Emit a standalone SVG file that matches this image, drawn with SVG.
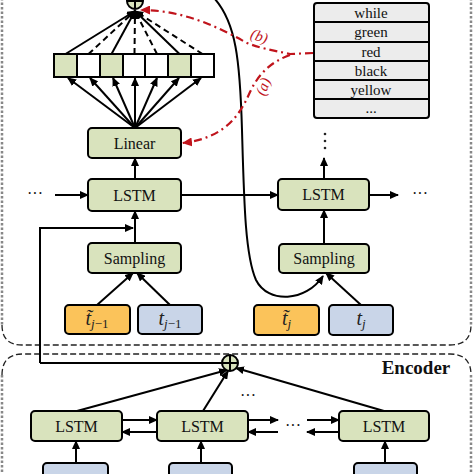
<svg xmlns="http://www.w3.org/2000/svg" width="474" height="474" viewBox="0 0 474 474">
<style>
.box{stroke:#000;stroke-width:2}
.g{fill:#d9e3bd}
.o{fill:#fbc35a}
.b{fill:#c9d5e8}
.w{fill:#fff}
.v{fill:#ececec}
.t{font-family:"Liberation Serif",serif;font-size:16px;text-anchor:middle;fill:#111}
.vt{font-family:"Liberation Serif",serif;font-size:15px;text-anchor:middle;fill:#111}
.it{font-family:"Liberation Serif",serif;font-style:italic;font-size:20px;text-anchor:middle;fill:#222}
.ln{fill:none;stroke:#000;stroke-width:2}
.dl{fill:none;stroke:#000;stroke-width:2;stroke-dasharray:6,4}
.red{fill:none;stroke:#c0141c;stroke-width:2.2;stroke-dasharray:8,4,2,4}
.rt{font-family:"Liberation Serif",serif;font-style:italic;font-size:15px;fill:#c0141c;text-anchor:middle}
.bd{fill:none;stroke:#222;stroke-width:1.3;stroke-dasharray:6,3}
.bs{fill:none;stroke:#888;stroke-width:2.5;stroke-dasharray:2.5,2}
</style>
<defs>
<marker id="ar" markerUnits="userSpaceOnUse" markerWidth="9" markerHeight="8" refX="8" refY="4" orient="auto">
<path d="M0,0 L9,4 L0,8 z" fill="#000"/>
</marker>
<marker id="arr" markerUnits="userSpaceOnUse" markerWidth="10" markerHeight="9" refX="9" refY="4.5" orient="auto">
<path d="M0,0 L10,4.5 L0,9 z" fill="#c0141c"/>
</marker>
</defs>

<g id="frames">
<path class="bd" d="M2 325 Q2 345 22 345 L450 345 Q471 345 471 325"/>
<path class="bs" d="M2 -2 L2 325 M471 -2 L471 325"/>
<path class="bd" d="M2 375 Q2 354 23 354 L450 354 Q471 354 471 375"/>
<path class="bs" d="M2 375 L2 476 M471 375 L471 476"/>
<text x="416" y="374" font-family="Liberation Serif,serif" font-weight="bold" font-size="19" text-anchor="middle" fill="#111">Encoder</text>
</g>

<g id="connectors">
<line class="ln" x1="65.5" y1="54" x2="135" y2="11" marker-end="url(#ar)"/>
<line class="dl" x1="88.5" y1="54" x2="135" y2="11" marker-end="url(#ar)"/>
<line class="ln" x1="111.5" y1="54" x2="135" y2="11" marker-end="url(#ar)"/>
<line class="dl" x1="134.5" y1="54" x2="135" y2="11" marker-end="url(#ar)"/>
<line class="dl" x1="157" y1="54" x2="135" y2="11" marker-end="url(#ar)"/>
<line class="ln" x1="179.5" y1="54" x2="135" y2="11" marker-end="url(#ar)"/>
<line class="dl" x1="202.5" y1="54" x2="135" y2="11" marker-end="url(#ar)"/>
<line class="ln" x1="135" y1="128" x2="68" y2="78" marker-end="url(#ar)"/>
<line class="ln" x1="135" y1="128" x2="90" y2="78" marker-end="url(#ar)"/>
<line class="ln" x1="135" y1="128" x2="113" y2="78" marker-end="url(#ar)"/>
<line class="ln" x1="135" y1="128" x2="135" y2="78" marker-end="url(#ar)"/>
<line class="ln" x1="135" y1="128" x2="157" y2="78" marker-end="url(#ar)"/>
<line class="ln" x1="135" y1="128" x2="179" y2="78" marker-end="url(#ar)"/>
<line class="ln" x1="135" y1="128" x2="201" y2="78" marker-end="url(#ar)"/>
<line class="ln" x1="135" y1="179" x2="135" y2="158" marker-end="url(#ar)"/>
<line class="ln" x1="135" y1="243" x2="135" y2="211" marker-end="url(#ar)"/>
<line class="ln" x1="55" y1="195" x2="88" y2="195" marker-end="url(#ar)"/>
<line class="ln" x1="181" y1="195" x2="278" y2="195" marker-end="url(#ar)"/>
<line class="ln" x1="369" y1="195" x2="398" y2="195" marker-end="url(#ar)"/>
<line class="ln" x1="324" y1="179" x2="324" y2="158" marker-end="url(#ar)"/>
<line class="ln" x1="324" y1="244" x2="324" y2="210" marker-end="url(#ar)"/>
<line class="ln" x1="97" y1="305" x2="133" y2="273" marker-end="url(#ar)"/>
<line class="ln" x1="170" y1="305" x2="137" y2="273" marker-end="url(#ar)"/>
<line class="ln" x1="361" y1="305" x2="326" y2="273" marker-end="url(#ar)"/>
<path class="ln" d="M40 363 L40 228 L133 228" marker-end="url(#ar)"/>
<path class="ln" d="M214 -2 C236 22 240 60 242 130 C244 200 245 255 256 280 C268 304 306 302 323 276" marker-end="url(#ar)"/>
<path class="red" d="M313 53 L290 54 C272 50 258 48 245 42 C215 25 180 10 141 10" marker-end="url(#arr)"/>
<path class="red" d="M290 55 C270 62 258 75 250 92 C240 115 225 138 183 143" marker-end="url(#arr)"/>
<line class="ln" x1="40" y1="363" x2="222" y2="363"/>
<line class="ln" x1="77" y1="411" x2="227" y2="370" marker-end="url(#ar)"/>
<line class="ln" x1="203" y1="411" x2="228" y2="371" marker-end="url(#ar)"/>
<line class="ln" x1="384" y1="411" x2="236" y2="368" marker-end="url(#ar)"/>
<line class="ln" x1="122" y1="420" x2="157" y2="420" marker-end="url(#ar)"/>
<line class="ln" x1="157" y1="432" x2="122" y2="432" marker-end="url(#ar)"/>
<line class="ln" x1="248" y1="420" x2="278" y2="420" marker-end="url(#ar)"/>
<line class="ln" x1="278" y1="432" x2="248" y2="432" marker-end="url(#ar)"/>
<line class="ln" x1="307" y1="420" x2="339" y2="420" marker-end="url(#ar)"/>
<line class="ln" x1="339" y1="432" x2="307" y2="432" marker-end="url(#ar)"/>
<line class="ln" x1="76" y1="463" x2="76" y2="441" marker-end="url(#ar)"/>
<line class="ln" x1="201" y1="463" x2="201" y2="441" marker-end="url(#ar)"/>
<line class="ln" x1="385" y1="463" x2="385" y2="441" marker-end="url(#ar)"/>
</g>

<g id="labels">
<text class="rt" x="259" y="41" transform="rotate(18 259 37)">(b)</text>
<text class="rt" x="264" y="91" transform="rotate(-70 264 87)">(a)</text>
<text class="t" x="35" y="199">···</text>
<text class="t" x="420" y="199">···</text>
<text class="t" x="248" y="401">···</text>
<text class="t" x="293" y="431">···</text>
<circle cx="325" cy="134" r="1.3" fill="#222"/>
<circle cx="325" cy="141" r="1.3" fill="#222"/>
<circle cx="325" cy="148" r="1.3" fill="#222"/>
</g>

<g id="merge-top">
<circle class="box g" cx="135" cy="1" r="8"/>
<path class="ln" d="M127 1 H143 M135 -7 V9" stroke-width="1.5"/>
</g>

<g id="vector">
<rect class="box g" x="54" y="54" width="23" height="23"/>
<rect class="box w" x="77" y="54" width="23" height="23"/>
<rect class="box g" x="100" y="54" width="23" height="23"/>
<rect class="box w" x="123" y="54" width="22" height="23"/>
<rect class="box w" x="145" y="54" width="23" height="23"/>
<rect class="box g" x="168" y="54" width="23" height="23"/>
<rect class="box w" x="191" y="54" width="23" height="23"/>
</g>

<g id="vocab">
<rect class="box v" x="314" y="3" width="115" height="115" rx="3"/>
<path class="ln" d="M314 22 H429 M314 42 H429 M314 61 H429 M314 80 H429 M314 99 H429"/>
<text class="vt" x="371" y="18">while</text>
<text class="vt" x="371" y="37">green</text>
<text class="vt" x="371" y="57">red</text>
<text class="vt" x="371" y="76">black</text>
<text class="vt" x="371" y="95">yellow</text>
<text class="vt" x="371" y="113">...</text>
</g>

<g id="linear">
<rect class="box g" x="88" y="128" width="93" height="30" rx="4"/>
<text class="t" x="134.5" y="149">Linear</text>
</g>

<g id="lstm-d1">
<rect class="box g" x="88" y="179" width="93" height="32" rx="4"/>
<text class="t" x="134.5" y="201">LSTM</text>
</g>
<g id="lstm-d2">
<rect class="box g" x="278" y="179" width="91" height="31" rx="4"/>
<text class="t" x="323.5" y="200">LSTM</text>
</g>
<g id="sampling-1">
<rect class="box g" x="88" y="243" width="93" height="30" rx="4"/>
<text class="t" x="134.5" y="264">Sampling</text>
</g>
<g id="sampling-2">
<rect class="box g" x="279" y="244" width="90" height="29" rx="4"/>
<text class="t" x="324" y="264">Sampling</text>
</g>

<g id="tt-j-1">
<rect class="box o" x="65" y="305" width="65" height="29" rx="4"/>
<text class="it" x="97" y="325">t&#771;<tspan font-size="13" dy="3">j</tspan><tspan font-size="13" font-style="normal">−1</tspan></text>
</g>
<g id="t-j-1">
<rect class="box b" x="138" y="305" width="64" height="29" rx="4"/>
<text class="it" x="170" y="325">t<tspan font-size="13" dy="3">j</tspan><tspan font-size="13" font-style="normal">−1</tspan></text>
</g>
<g id="tt-j">
<rect class="box o" x="254" y="305" width="65" height="30" rx="4"/>
<text class="it" x="286.5" y="325">t&#771;<tspan font-size="13" dy="3">j</tspan></text>
</g>
<g id="t-j">
<rect class="box b" x="329" y="305" width="64" height="30" rx="4"/>
<text class="it" x="361" y="325">t<tspan font-size="13" dy="3">j</tspan></text>
</g>

<g id="merge-enc">
<circle class="box g" cx="230" cy="363" r="8"/>
<path class="ln" d="M222 363 H238 M230 355 V371" stroke-width="1.5"/>
</g>

<g id="lstm-e1">
<rect class="box g" x="31" y="411" width="91" height="30" rx="4"/>
<text class="t" x="76.5" y="432">LSTM</text>
</g>
<g id="lstm-e2">
<rect class="box g" x="157" y="411" width="91" height="30" rx="4"/>
<text class="t" x="202.5" y="432">LSTM</text>
</g>
<g id="lstm-e3">
<rect class="box g" x="339" y="411" width="90" height="30" rx="4"/>
<text class="t" x="384" y="432">LSTM</text>
</g>
<g id="in-e1"><rect class="box b" x="43" y="463" width="65" height="20" rx="4"/></g>
<g id="in-e2"><rect class="box b" x="169" y="463" width="63" height="20" rx="4"/></g>
<g id="in-e3"><rect class="box b" x="354" y="463" width="63" height="20" rx="4"/></g>
</svg>
